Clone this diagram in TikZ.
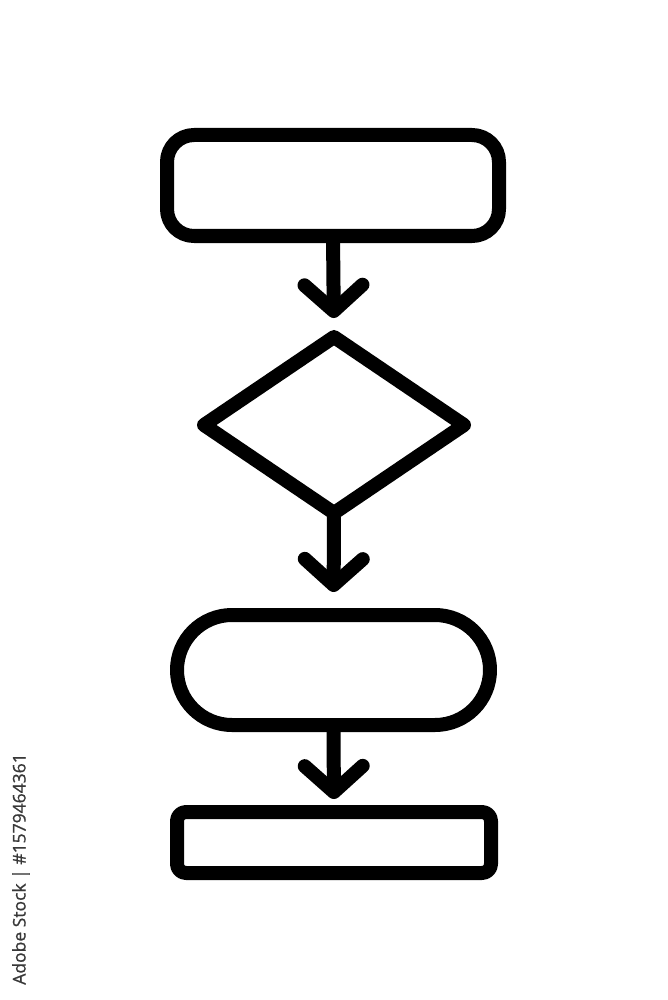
\documentclass[tikz,border=0pt]{standalone}
\usepackage{fontspec}
\newfontfamily\wmfont[FakeBold=0.8]{Open Sans}
\usetikzlibrary{shapes.geometric,arrows.meta}
\begin{document}
\begin{tikzpicture}[x=1pt,y=-1pt,
  shp/.style={draw=black,line width=14pt,inner sep=0pt,outer sep=0pt,line join=round,fill=white},
  conn/.style={line width=14pt,line cap=round,-{Straight Barb[length=26pt,width=58pt,round]}}
]
\useasboundingbox[fill=white] (0,0) rectangle (667,1000);
\node[shp,rectangle,rounded corners=27pt,minimum width=332pt,minimum height=101pt] (start) at (333,185.5) {};
\node[shp,diamond,minimum width=260pt,minimum height=176pt] (dec) at (334,425) {};
\node[shp,rectangle,rounded corners=55pt,minimum width=313pt,minimum height=110pt] (proc) at (333.5,670) {};
\node[shp,rectangle,rounded corners=9pt,minimum width=314pt,minimum height=61pt] (end) at (334,842.5) {};
\draw[conn,shorten >=19pt] (start.south) -- (dec.north);
\draw[conn,shorten >=23pt] (dec.south) -- (proc.north);
\draw[conn,shorten >=13pt] (proc.south) -- (end.north);
\node[rotate=90,text=black!78,font=\wmfont\fontsize{17.5}{17.5}\selectfont,inner sep=0pt] (wm) at (21,869) {Adobe Stock | \#1579464361};
\end{tikzpicture}
\end{document}
